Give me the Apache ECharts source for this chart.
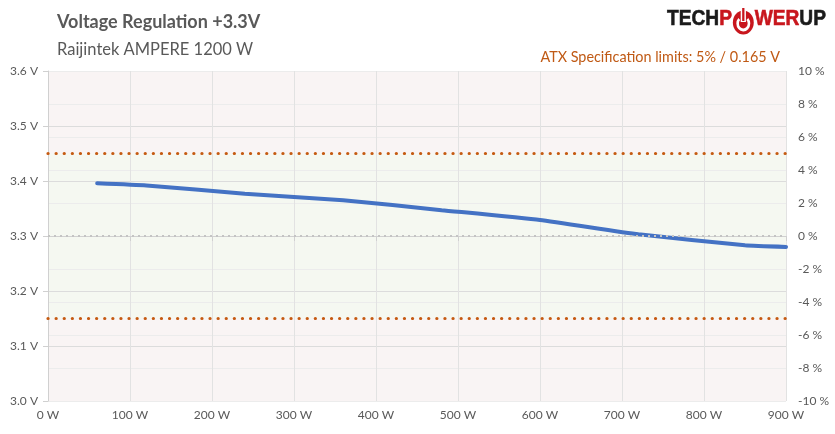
<!DOCTYPE html>
<html>
<head>
<meta charset="utf-8">
<script src="https://cdn.jsdelivr.net/npm/echarts@6/dist/echarts.min.js"></script>
<style>html,body{margin:0;padding:0;background:#fff}#c{width:835px;height:434px}</style>
</head>
<body>
<div id="c"></div>
<script>
// ---- data ----
const loadsW = [60, 120, 240, 360, 480, 600, 720, 850, 900];
const voltsV = [3.396, 3.392, 3.377, 3.365, 3.347, 3.329, 3.303, 3.283, 3.280];
const nominalV = 3.3;
const upperLimitV = 3.45;
const lowerLimitV = 3.15;
const titleText = 'Voltage Regulation +3.3V';
const subtitleText = 'Raijintek AMPERE 1200 W';
const specText = 'ATX Specification limits: 5% / 0.165 V';

const FONT = 'Lato, "Open Sans", sans-serif';
const chart = echarts.init(document.getElementById('c'), null, {renderer: 'canvas'});

// logo layout measured at runtime
const mc = document.createElement('canvas').getContext('2d');
const LF = 'bold 22px "Liberation Sans", Arial, sans-serif';
mc.font = LF;
const wTECH = mc.measureText('TECH').width;
const wP = mc.measureText('P').width;
const rO = 12;
const wWER = mc.measureText('WER').width;
const wUP = mc.measureText('UP').width;
const gap = 1;
const totalW = wTECH + wP + gap + 2 * rO + gap + wWER + wUP;
const logoScale = 159 / totalW;
const xO = wTECH + wP + gap + rO;
const baseY = 30;
const red = '#c8161d';

const logo = {
  type: 'group', x: 667, y: 0, scaleX: logoScale, silent: true,
  children: [
    {type: 'text', x: 0, y: baseY, style: {text: 'TECH', font: LF, fill: '#1a1a1a', stroke: '#1a1a1a', lineWidth: 0.6, verticalAlign: 'bottom'}},
    {type: 'text', x: wTECH, y: baseY, style: {text: 'P', font: LF, fill: red, stroke: red, lineWidth: 0.6, verticalAlign: 'bottom'}},
    {type: 'circle', shape: {cx: xO, cy: 22.5, r: rO}, style: {fill: red}},
    {type: 'arc', shape: {cx: xO, cy: 23.5, r: 6.5, startAngle: -Math.PI / 2 + 0.8, endAngle: -Math.PI / 2 - 0.8 + Math.PI * 2}, style: {stroke: '#fff', lineWidth: 3, fill: null}},
    {type: 'line', shape: {x1: xO, y1: 9, x2: xO, y2: 22}, style: {stroke: '#fff', lineWidth: 6}},
    {type: 'line', shape: {x1: xO, y1: 8, x2: xO, y2: 21}, style: {stroke: red, lineWidth: 2.6}},
    {type: 'text', x: xO + rO + gap, y: baseY, style: {text: 'WER', font: LF, fill: red, stroke: red, lineWidth: 0.6, verticalAlign: 'bottom'}},
    {type: 'text', x: xO + rO + gap + wWER, y: baseY, style: {text: 'UP', font: LF, fill: '#1a1a1a', stroke: '#1a1a1a', lineWidth: 0.6, verticalAlign: 'bottom'}}
  ]
};

const labelStyle = {color: '#595959', fontSize: 12, fontFamily: FONT};

const option = {
  animation: false,
  backgroundColor: '#ffffff',
  grid: {left: 48, right: 49, top: 71, bottom: 33, show: true, backgroundColor: '#f9f4f4', borderWidth: 0},
  graphic: [
    {type: 'text', left: 57, top: 13, style: {text: titleText, font: 'bold 18px ' + FONT, fill: '#595959'}},
    {type: 'text', left: 57, top: 41, style: {text: subtitleText, font: '16.5px ' + FONT, fill: '#595959'}},
    {type: 'text', right: 55, top: 50, style: {text: specText, font: '14.4px ' + FONT, fill: '#c05a15'}},
    logo
  ],
  xAxis: {
    type: 'value', min: 0, max: 900, interval: 100, z: 2,
    axisLine: {show: true, lineStyle: {color: '#d0d0d0'}},
    axisTick: {show: true, length: 5, lineStyle: {color: '#d0d0d0'}},
    axisLabel: Object.assign({margin: 8, formatter: v => v + ' W'}, labelStyle),
    splitLine: {show: true, lineStyle: {color: '#e2e2e2'}}
  },
  yAxis: [
    {
      type: 'value', min: 3.0, max: 3.6, interval: 0.1, z: 2,
      axisLine: {show: true, lineStyle: {color: '#d0d0d0'}},
      axisTick: {show: true, length: 5, lineStyle: {color: '#d0d0d0'}},
      axisLabel: Object.assign({margin: 10, formatter: v => v.toFixed(1) + ' V'}, labelStyle),
      splitLine: {show: true, lineStyle: {color: '#dcdcdc'}}
    },
    {
      type: 'value', min: -10, max: 10, interval: 2, position: 'right', z: 2,
      axisLine: {show: false}, axisTick: {show: false},
      axisLabel: Object.assign({margin: 12, formatter: v => v + ' %'}, labelStyle),
      splitLine: {show: true, lineStyle: {color: '#ececec'}}
    }
  ],
  series: [
    {
      type: 'line', data: [], z: 1, silent: true,
      markArea: {silent: true, itemStyle: {color: '#f5f8f1'}, data: [[{yAxis: lowerLimitV}, {yAxis: upperLimitV}]]}
    },
    {
      type: 'line', data: loadsW.map((x, i) => [x, voltsV[i]]), z: 4,
      smooth: 0.15, symbol: 'none',
      lineStyle: {color: '#4472c4', width: 4, cap: 'round'}
    },
    {
      type: 'line', data: [], z: 5, silent: true,
      markLine: {
        silent: true, symbol: 'none', label: {show: false},
        data: [
          {yAxis: upperLimitV, lineStyle: {color: '#c55a11', width: 3.2, type: [0.1, 8], cap: 'round'}},
          {yAxis: lowerLimitV, lineStyle: {color: '#c55a11', width: 3.2, type: [0.1, 8], cap: 'round'}},
          {yAxis: nominalV, lineStyle: {color: '#c4c4c4', width: 2, type: [2, 4], cap: 'butt'}}
        ]
      }
    }
  ]
};
chart.setOption(option);
</script>
</body>
</html>
